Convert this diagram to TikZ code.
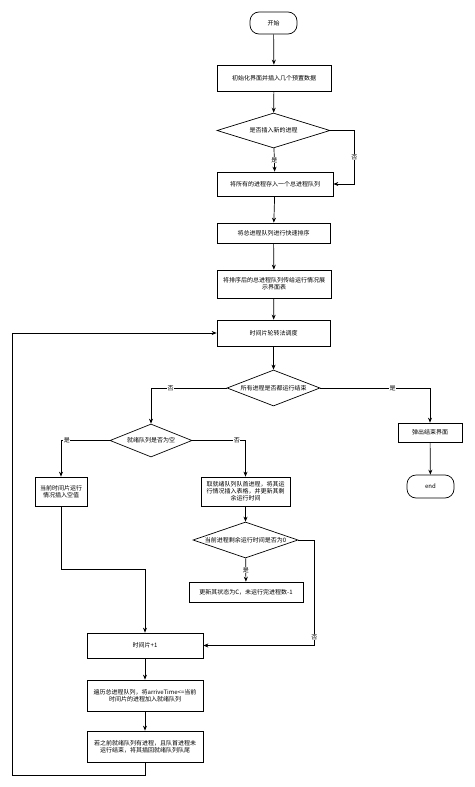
\documentclass[tikz,border=0pt]{standalone}
\usepackage{fontspec}
\setmainfont{Noto Sans CJK SC}
\usetikzlibrary{arrows.meta,positioning,calc,shapes.geometric}

\begin{document}
\begin{tikzpicture}[x=1pt,y=-1pt,box/.style={draw,line width=0.7pt,inner sep=1pt,align=center,font=\fontsize{6}{7}\selectfont},term/.style={box,rounded corners=9pt},cond/.style={draw,line width=0.7pt,diamond,inner sep=0pt,label={[font=\fontsize{6}{7}\selectfont]center:#1}},arr/.style={-{Stealth[length=5pt,width=4pt]},line width=0.7pt},lbl/.style={fill=white,inner sep=0.5pt,font=\fontsize{6}{7}\selectfont}]
    \useasboundingbox (0,0) rectangle (474,787);
    \node[term,minimum width=47pt,minimum height=22pt] (start) at (273.5,23) {开始};
    \node[box,minimum width=114pt,minimum height=26pt] (init) at (274,78) {初始化界面并插入几个预置数据};
    \node[cond=是否插入新的进程,minimum width=113pt,minimum height=35pt] (q1) at (273.5,130.5) {};
    \node[box,minimum width=116pt,minimum height=24pt] (allq) at (275,184) {将所有的进程存入一个总进程队列};
    \node[box,minimum width=113pt,minimum height=20pt] (sort) at (273.5,233) {将总进程队列进行快速排序};
    \node[box,minimum width=114pt,minimum height=28pt] (show) at (274,284) {将排序后的总进程队列传给运行情况展\\示界面表};
    \node[box,minimum width=113pt,minimum height=26pt] (rr) at (273.5,333) {时间片轮转法调度};
    \node[cond=所有进程是否都运行结束,minimum width=93pt,minimum height=36pt] (q2) at (273.5,388) {};
    \node[box,minimum width=64pt,minimum height=19pt] (popend) at (430,432.5) {弹出结束界面};
    \node[term,minimum width=47pt,minimum height=23pt] (fin) at (430.5,486.5) {end};
    \node[cond=就绪队列是否为空,minimum width=82pt,minimum height=33pt] (q3) at (151,440.5) {};
    \node[box,minimum width=52pt,minimum height=29pt] (nul) at (61,491.5) {当前时间片运行\\情况插入空值};
    \node[box,minimum width=89pt,minimum height=29pt] (take) at (245.5,491.5) {取就绪队列队首进程，将其运\\行情况插入表格，并更新其剩\\余运行时间};
    \node[cond=当前进程剩余运行时间是否为0,minimum width=105pt,minimum height=36pt] (q4) at (245.5,540) {};
    \node[box,minimum width=114pt,minimum height=20pt] (upd) at (246,592) {更新其状态为C，未运行完进程数-1};
    \node[box,minimum width=116pt,minimum height=25pt] (tick) at (145,645.5) {时间片+1};
    \node[box,minimum width=116pt,minimum height=31pt] (scan) at (145,695.5) {遍历总进程队列，将arriveTime<=当前\\时间片的进程加入就绪队列};
    \node[box,minimum width=116pt,minimum height=31pt] (back) at (145,746.5) {若之前就绪队列有进程，且队首进程未\\运行结束，将其插回就绪队列队尾};
    \coordinate (lp) at (12,775);
    \draw[arr] (start)--(init);
    \draw[arr] (init)--(q1);
    \draw[arr] (q1)--node[lbl]{是}(allq);
    \draw[arr] (q1.east)--++(24,0)|-node[lbl,pos=0.25]{否}(allq.east);
    \draw[arr] (allq)--(sort);
    \draw[arr] (sort)--(show);
    \draw[arr] (show)--(rr);
    \draw[arr] (rr)--(q2);
    \draw[arr] (q2.west)-|node[lbl,pos=0.37]{否}(q3.north);
    \draw[arr] (q2.east)-|node[lbl,pos=0.33]{是}(popend.north);
    \draw[arr] (popend)--(fin);
    \draw[arr] (q3.west)-|node[lbl,pos=0.44]{是}(nul.north);
    \draw[arr] (q3.east)-|node[lbl,pos=0.42]{否}(take.north);
    \draw[arr] (take)--(q4);
    \draw[arr] (q4)--node[lbl]{是}(upd);
    \draw[arr] (q4.east)--++(16,0)|-node[lbl,pos=0.46]{否}(tick.east);
    \draw[arr] (nul.south)--++(0,63)-|(tick.north);
    \draw[arr] (tick)--(scan);
    \draw[arr] (scan)--(back);
    \draw[arr] (back.south)|-(lp)|-(rr.west);
  \end{tikzpicture}
\end{document}
